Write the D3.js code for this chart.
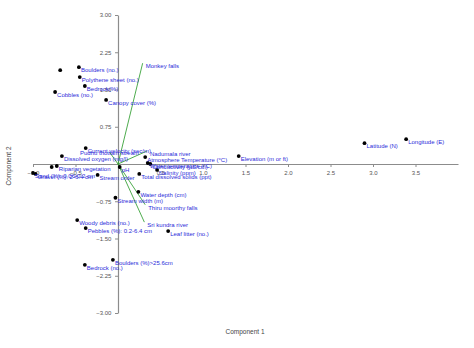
<!DOCTYPE html>
<html>
<head>
<meta charset="utf-8">
<script src="https://cdn.jsdelivr.net/npm/d3@7"></script>
<style>
  html, body { margin: 0; padding: 0; background: #fff; }
  svg { display: block; }
  text { font-family: "Liberation Sans", Arial, sans-serif; }
</style>
</head>
<body>
<svg id="chart" width="474" height="348"></svg>
<script>
// Variable scores on the first two principal components
const pointLabels = [
  "", "Boulders (no.)", "Polythene sheet (no.)", "Bedrock(%)", "Cobbles (no.)",
  "Canopy cover (%)", "Current velocity (sec/m)", "Dissolved oxygen (mg/l)",
  "Riparian vegetation", "", "Sand (%): 0.06-0.2 cm", "Gravel (%): 2-6.4 cm",
  "Stream order", "pH", "Atmosphere Temperature (°C)", "Water temperature (°C)",
  "Conductivity (µS/cm)", "Salinity (ppm)", "Total dissolved solids (ppt)",
  "Elevation  (m or ft)", "Latitude (N)", "Longitude (E)", "Water depth (cm)",
  "Stream width (m)", "Woody debris (no.)", "Pebbles (%): 0.2-6.4 cm",
  "Leaf litter (no.)", "Boulders (%)>25.6cm", "Bedrock (no.)"
];
const pointPC1 = [
  -0.68, -0.46, -0.45, -0.39, -0.74,
  -0.14, -0.38, -0.66,
  -0.72, -0.78, -1.00, -0.97,
  -0.24, 0.02, 0.32, 0.35,
  0.38, 0.46, 0.25,
  1.42, 2.90, 3.39, 0.24,
  -0.03, -0.48, -0.38,
  0.59, -0.06, -0.39
];
const pointPC2 = [
  1.89, 1.95, 1.75, 1.57, 1.45,
  1.29, 0.32, 0.16,
  -0.04, -0.06, -0.18, -0.20,
  -0.22, -0.06, 0.14, 0.02,
  0.00, -0.12, -0.20,
  0.16, 0.42, 0.50, -0.56,
  -0.68, -1.13, -1.29,
  -1.35, -1.93, -2.03
];

// Site loadings drawn as vectors from the origin
const siteNames = ["Monkey falls", "Nadumala river", "Pudhu thottam stream", "Thiru moorthy falls", "Sri kundra river"];
const sitePC1 = [0.29, 0.34, -0.10, 0.32, 0.31];
const sitePC2 = [2.03, 0.26, 0.24, -0.82, -1.17];

// Axis ticks
const xTicks = [-1.0, -0.5, 0.5, 1.0, 1.5, 2.0, 2.5, 3.0, 3.5];
const yTicks = [3.00, 2.25, 1.50, 0.75, -0.75, -1.50, -2.25, -3.00];

const svg = d3.select("#chart");

const x = d3.scaleLinear().domain([-1, 4]).range([33, 458]);
const y = d3.scaleLinear().domain([-3, 3]).range([313, 15]);

const axisColor = "#8c8c8c";
const tickTextColor = "#555";
const labelColor = "#2b2bd9";
const vectorColor = "#3aa33a";

// Horizontal axis through the origin
const xAxis = d3.axisBottom(x)
  .tickValues(xTicks)
  .tickFormat(d3.format(".1f"))
  .tickSize(3)
  .tickSizeOuter(0);
const gx = svg.append("g").attr("transform", `translate(0,${y(0)})`).call(xAxis);

// Vertical axis through the origin
const yAxis = d3.axisLeft(y)
  .tickValues(yTicks)
  .tickFormat(d3.format(".2f"))
  .tickSize(3)
  .tickSizeOuter(0);
const gy = svg.append("g").attr("transform", `translate(${x(0)},0)`).call(yAxis);

[gx, gy].forEach(g => {
  g.select(".domain").attr("stroke", axisColor).attr("stroke-width", 1.2);
  g.selectAll(".tick line").attr("stroke", axisColor);
  g.selectAll(".tick text")
    .attr("fill", tickTextColor)
    .style("font-size", "6px");
});
gx.selectAll(".tick text").attr("dy", "0.9em");
gy.selectAll(".tick text").attr("dx", "-0.1em");

// Site vectors
const sites = siteNames.map((name, i) => ({ name, pc1: sitePC1[i], pc2: sitePC2[i] }));
svg.append("g").selectAll("line")
  .data(sites)
  .join("line")
  .attr("x1", x(0)).attr("y1", y(0))
  .attr("x2", d => x(d.pc1)).attr("y2", d => y(d.pc2))
  .attr("stroke", vectorColor)
  .attr("stroke-width", 0.9);

// Points
const points = pointLabels.map((label, i) => ({ label, pc1: pointPC1[i], pc2: pointPC2[i] }));
svg.append("g").selectAll("circle")
  .data(points)
  .join("circle")
  .attr("cx", d => x(d.pc1))
  .attr("cy", d => y(d.pc2))
  .attr("r", 1.9)
  .attr("fill", "#000");

svg.append("g").selectAll("text")
  .data(points.filter(d => d.label))
  .join("text")
  .attr("x", d => x(d.pc1) + 2)
  .attr("y", d => y(d.pc2) + 5)
  .attr("fill", labelColor)
  .style("font-size", "6px")
  .text(d => d.label);

// Site labels: at the vector tip, centred above it when the vector points left
svg.append("g").selectAll("text")
  .data(sites)
  .join("text")
  .attr("x", d => d.pc1 < 0 ? x(d.pc1) : x(d.pc1) + 3)
  .attr("y", d => d.pc1 < 0 ? y(d.pc2) + 3 : y(d.pc2) + 5)
  .attr("text-anchor", d => d.pc1 < 0 ? "middle" : "start")
  .attr("fill", labelColor)
  .style("font-size", "6px")
  .text(d => d.name);

// Axis titles
svg.append("text")
  .attr("x", 245).attr("y", 334)
  .attr("text-anchor", "middle")
  .attr("fill", "#444")
  .style("font-size", "6.5px")
  .text("Component 1");

svg.append("text")
  .attr("transform", "translate(11,166) rotate(-90)")
  .attr("text-anchor", "middle")
  .attr("fill", "#444")
  .style("font-size", "6.5px")
  .text("Component 2");
</script>
</body>
</html>
